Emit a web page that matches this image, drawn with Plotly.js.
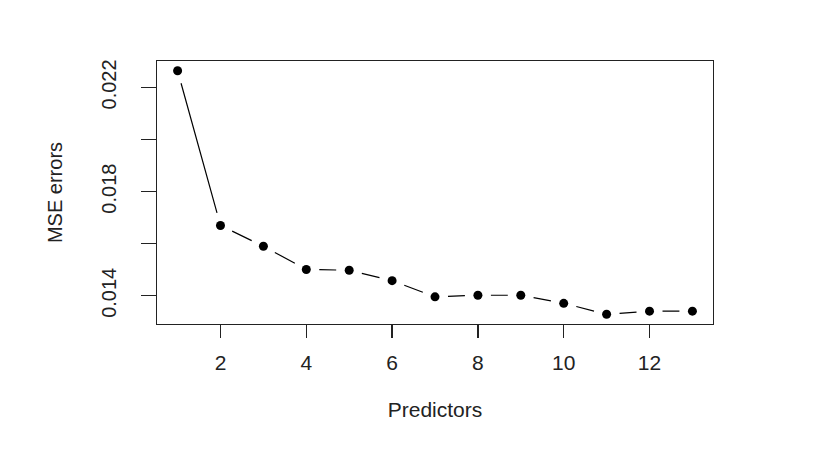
<!DOCTYPE html>
<html>
<head>
<meta charset="utf-8">
<script src="https://cdn.plot.ly/plotly-3.0.1.min.js"></script>
<style>html,body{margin:0;padding:0;background:#fff;}#chart{width:836px;height:453px;}</style>
</head>
<body>
<div id="chart"></div>
<script>
const predictors = [1,2,3,4,5,6,7,8,9,10,11,12,13];
const mseErrors = [0.02264,0.01670,0.01590,0.01501,0.01498,0.01458,0.01396,0.01402,0.01402,0.01371,0.01329,0.01341,0.01341];
const xTickVals = [2,4,6,8,10,12];
const xTickText = ['2','4','6','8','10','12'];
const yTickVals = [0.014,0.016,0.018,0.020,0.022];
const yTickText = ['0.014','','0.018','','0.022'];

const W = 836, H = 453;
const margin = {l:157, r:123, t:61, b:129};
const plotW = W - margin.l - margin.r, plotH = H - margin.t - margin.b;
const xmin = Math.min(...predictors), xmax = Math.max(...predictors);
const ymin = Math.min(...mseErrors), ymax = Math.max(...mseErrors);
const xr = [xmin - 0.04*(xmax-xmin), xmax + 0.04*(xmax-xmin)];
const yr = [ymin - 0.04*(ymax-ymin), ymax + 0.04*(ymax-ymin)];
const gap = 13;

const traces = [];
for (let i = 0; i < predictors.length - 1; i++) {
  const dx = (predictors[i+1]-predictors[i]) / (xr[1]-xr[0]) * plotW;
  const dy = (mseErrors[i+1]-mseErrors[i]) / (yr[1]-yr[0]) * plotH;
  const L = Math.sqrt(dx*dx + dy*dy);
  const vis = Math.max(L - 2*gap, 0);
  traces.push({
    x: [predictors[i], predictors[i+1]],
    y: [mseErrors[i], mseErrors[i+1]],
    mode: 'lines', type: 'scatter', hoverinfo: 'skip', showlegend: false,
    line: {color: '#000', width: 1.2, dash: `0px,${gap}px,${vis.toFixed(2)}px,${(3*L).toFixed(2)}px`}
  });
}
traces.push({
  x: predictors, y: mseErrors, mode: 'markers', type: 'scatter', showlegend: false,
  marker: {color: '#000', size: 9, symbol: 'circle'}
});

const fam = 'Liberation Sans, Arial, sans-serif';
const xfont = {family: fam, size: 21, color: '#222'};
const yfont = {family: fam, size: 20, color: '#222'};
const layout = {
  width: W, height: H, margin: margin,
  paper_bgcolor: '#fff', plot_bgcolor: '#fff',
  showlegend: false, font: xfont,
  xaxis: {
    range: xr, showgrid: false, zeroline: false,
    showline: true, mirror: true, linecolor: '#222', linewidth: 1.3,
    ticks: 'outside', ticklen: 13, tickwidth: 1.3, tickcolor: '#222',
    tickvals: xTickVals, ticktext: xTickText, tickfont: xfont,
    ticklabelstandoff: 6,
    title: {text: 'Predictors', font: xfont, standoff: 29},
    automargin: false
  },
  yaxis: {
    range: yr, showgrid: false, zeroline: false,
    showline: true, mirror: true, linecolor: '#222', linewidth: 1.3,
    ticks: 'outside', ticklen: 15, tickwidth: 1.3, tickcolor: '#222',
    tickvals: yTickVals, ticktext: yTickText, tickfont: yfont,
    tickangle: -90, ticklabelstandoff: 17,
    title: {text: 'MSE errors', font: yfont, standoff: 29},
    automargin: false
  }
};
Plotly.newPlot('chart', traces, layout, {staticPlot: true, displayModeBar: false});
</script>
</body>
</html>
